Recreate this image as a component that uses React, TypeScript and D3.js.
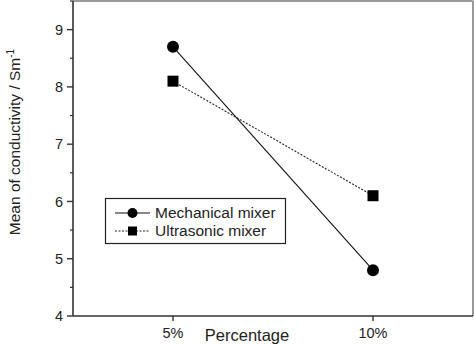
import React from "react";
import * as d3 from "d3";

const categories = [5, 10];
const categoryLabels = ["5%", "10%"];
const mechanical = [8.7, 4.8];
const ultrasonic = [8.1, 6.1];
const yTicks = [4, 5, 6, 7, 8, 9];
const yMinorTicks = [4.5, 5.5, 6.5, 7.5, 8.5, 9.5];

const W = 474;
const H = 345;
const left = 73;
const right = 473;
const top = 1;
const bottom = 316;

export default function App() {
  const x = d3.scaleLinear().domain([2.5, 12.5]).range([left, right]);
  const y = d3.scaleLinear().domain([4, 9.5]).range([bottom, top]);
  const line = d3
    .line<number>()
    .x((_, i) => x(categories[i]))
    .y((d) => y(d));
  const font = "'Liberation Sans', Arial, sans-serif";
  const axisColor = "#333";
  return (
    <svg
      width={W}
      height={H}
      style={{ position: "absolute", left: 0, top: 0, background: "#fff" }}
      fontFamily={font}
    >
      <rect x={0} y={0} width={W} height={H} fill="#fff" />
      {/* frame */}
      <line x1={left} x2={right} y1={top} y2={top} stroke="#999" strokeWidth={2} />
      <line x1={right} x2={right} y1={top} y2={bottom} stroke="#999" strokeWidth={2} />
      <line x1={left} x2={left} y1={top} y2={bottom} stroke={axisColor} strokeWidth={1.6} />
      <line x1={left} x2={right} y1={bottom} y2={bottom} stroke={axisColor} strokeWidth={1.6} />
      {/* y ticks */}
      {yTicks.map((t) => (
        <g key={"yt" + t}>
          <line x1={left - 6} x2={left} y1={y(t)} y2={y(t)} stroke={axisColor} strokeWidth={1.4} />
          <text x={left - 10} y={y(t)} dy="0.35em" textAnchor="end" fontSize={14.5} fill="#222">
            {t}
          </text>
        </g>
      ))}
      {yMinorTicks.map((t) => (
        <line key={"ym" + t} x1={left - 3} x2={left} y1={y(t)} y2={y(t)} stroke={axisColor} strokeWidth={1.2} />
      ))}
      {/* x ticks */}
      {categories.map((c, i) => (
        <g key={"xt" + c}>
          <line x1={x(c)} x2={x(c)} y1={bottom} y2={bottom + 5} stroke={axisColor} strokeWidth={1.4} />
          <text x={x(c)} y={338} textAnchor="middle" fontSize={14.5} fill="#222">
            {categoryLabels[i]}
          </text>
        </g>
      ))}
      {/* axis titles */}
      <text x={247} y={341} textAnchor="middle" fontSize={16.5} fill="#222">
        Percentage
      </text>
      <text
        transform={`translate(20, 142) rotate(-90)`}
        textAnchor="middle"
        fontSize={15.5}
        fill="#222"
      >
        Mean of conductivity / Sm
        <tspan dy={-6} fontSize={10}>-1</tspan>
      </text>
      {/* series */}
      <path d={line(mechanical) || ""} fill="none" stroke="#111" strokeWidth={1.1} />
      <path d={line(ultrasonic) || ""} fill="none" stroke="#222" strokeWidth={1.1} strokeDasharray="2,1.5" />
      {mechanical.map((v, i) => (
        <circle key={"m" + i} cx={x(categories[i])} cy={y(v)} r={6} fill="#000" />
      ))}
      {ultrasonic.map((v, i) => (
        <rect key={"u" + i} x={x(categories[i]) - 5.5} y={y(v) - 5.5} width={11} height={11} fill="#000" />
      ))}
      {/* legend */}
      <rect x={105.5} y={198.5} width={180} height={45} fill="#fff" stroke="#222" strokeWidth={1.2} />
      <line x1={115} x2={150} y1={213} y2={213} stroke="#111" strokeWidth={1.1} />
      <circle cx={132.5} cy={213} r={5} fill="#000" />
      <text x={155} y={213} dy="0.35em" fontSize={15.5} fill="#222">
        Mechanical mixer
      </text>
      <line x1={115} x2={150} y1={231} y2={231} stroke="#222" strokeWidth={1.1} strokeDasharray="2,1.5" />
      <rect x={128} y={226.5} width={9} height={9} fill="#000" />
      <text x={155} y={231} dy="0.35em" fontSize={15.5} fill="#222">
        Ultrasonic mixer
      </text>
    </svg>
  );
}
